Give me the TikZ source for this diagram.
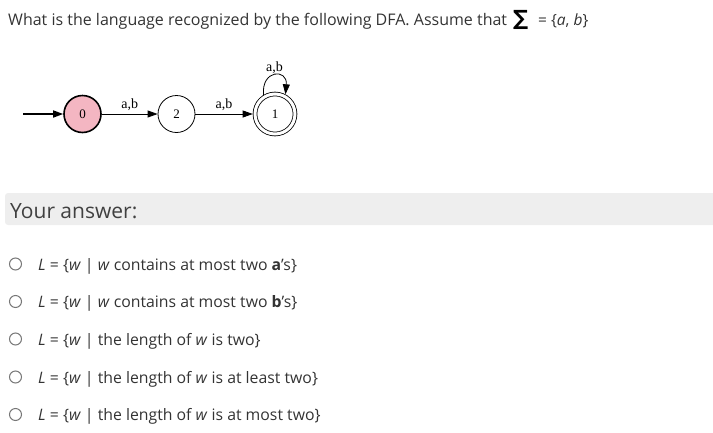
\documentclass[tikz,border=0pt]{standalone}
\usepackage{fontspec}
\setmainfont{Open Sans}
\newfontfamily\dotfont{Liberation Serif}
\newfontfamily\symfont{DejaVu Sans}
\usetikzlibrary{arrows.meta,positioning,automata}
\definecolor{textgray}{HTML}{333333}
\definecolor{startpink}{HTML}{F4B6C2}
\definecolor{boxgray}{HTML}{EEEEEE}
\definecolor{radiogray}{HTML}{777777}

\begin{document}
\begin{tikzpicture}[x=1pt,y=1pt,>={Triangle[length=10pt,width=7pt]},node distance=94pt,on grid,
  every state/.style={draw=black,line width=0.8pt,minimum size=37pt,inner sep=0pt,font=\dotfont\fontsize{13}{13}\selectfont},
  accepting/.style={double,double distance=3pt,minimum size=40pt,outer sep=2.3pt},
  trans/.style={->,line width=0.8pt},
  lbl/.style={font=\dotfont\fontsize{14}{14}\selectfont,inner sep=2.5pt},
  question/.style={anchor=base west,inner sep=0pt,text=textgray,font=\fontsize{15.8}{18}\selectfont},
  radio/.style={circle,draw=radiogray,line width=1pt,minimum size=12pt,inner sep=0pt}]
\useasboundingbox (0,0) rectangle (713,-432);

% question line
\node[question,font=\fontsize{16}{18}\selectfont] (title) at (8,-25) {What is the language recognized by the following DFA. Assume that};
\node[anchor=base west,inner sep=0pt,font=\symfont\bfseries\fontsize{21}{21}\selectfont] (sigma) at (513,-25) {∑};
\node[question,font=\fontsize{15.5}{16}\selectfont] (set) at (538,-25) {= \{\textit{a}, \textit{b}\}};

% the automaton
\node[state,fill=startpink,line width=1.6pt] (q0) at (82.5,-114) {0};
\node[state]           (q2) [right=of q0]        {2};
\node[state,accepting] (q1) [right=98.5pt of q2] {1};
\coordinate (start) at (23,-114);
\draw[trans,line width=1.6pt] (start) -- (q0);
\path[trans] (q0) edge node[lbl,above] {a,b} (q2)
             (q2) edge node[lbl,above] {a,b} (q1)
             (q1.121) edge [out=95,in=85,looseness=3] node[lbl,above,inner sep=1.5pt] {a,b} (q1.62);

% answers
\fill[boxgray,rounded corners=3pt] (5,-193) rectangle (720,-225);
\node[question,font=\fontsize{21}{24}\selectfont,text=black!75] (answer) at (10,-218) {Your answer:};

\node[radio] (r1) at (15.5,-264)   {};
\node[radio] (r2) at (15.5,-301.5) {};
\node[radio] (r3) at (15.5,-339)   {};
\node[radio] (r4) at (15.5,-377)   {};
\node[radio] (r5) at (15.5,-414.5) {};
\node[question] (opt1) at (38,-270)   {\textit{L} = \{\textit{w} | \textit{w} contains at most two \textbf{a}’s\}};
\node[question] (opt2) at (38,-307.5) {\textit{L} = \{\textit{w} | \textit{w} contains at most two \textbf{b}’s\}};
\node[question] (opt3) at (38,-345)   {\textit{L} = \{\textit{w} | the length of \textit{w} is two\}};
\node[question] (opt4) at (38,-383)   {\textit{L} = \{\textit{w} | the length of \textit{w} is at least two\}};
\node[question] (opt5) at (38,-420.5) {\textit{L} = \{\textit{w} | the length of \textit{w} is at most two\}};
\end{tikzpicture}
\end{document}
